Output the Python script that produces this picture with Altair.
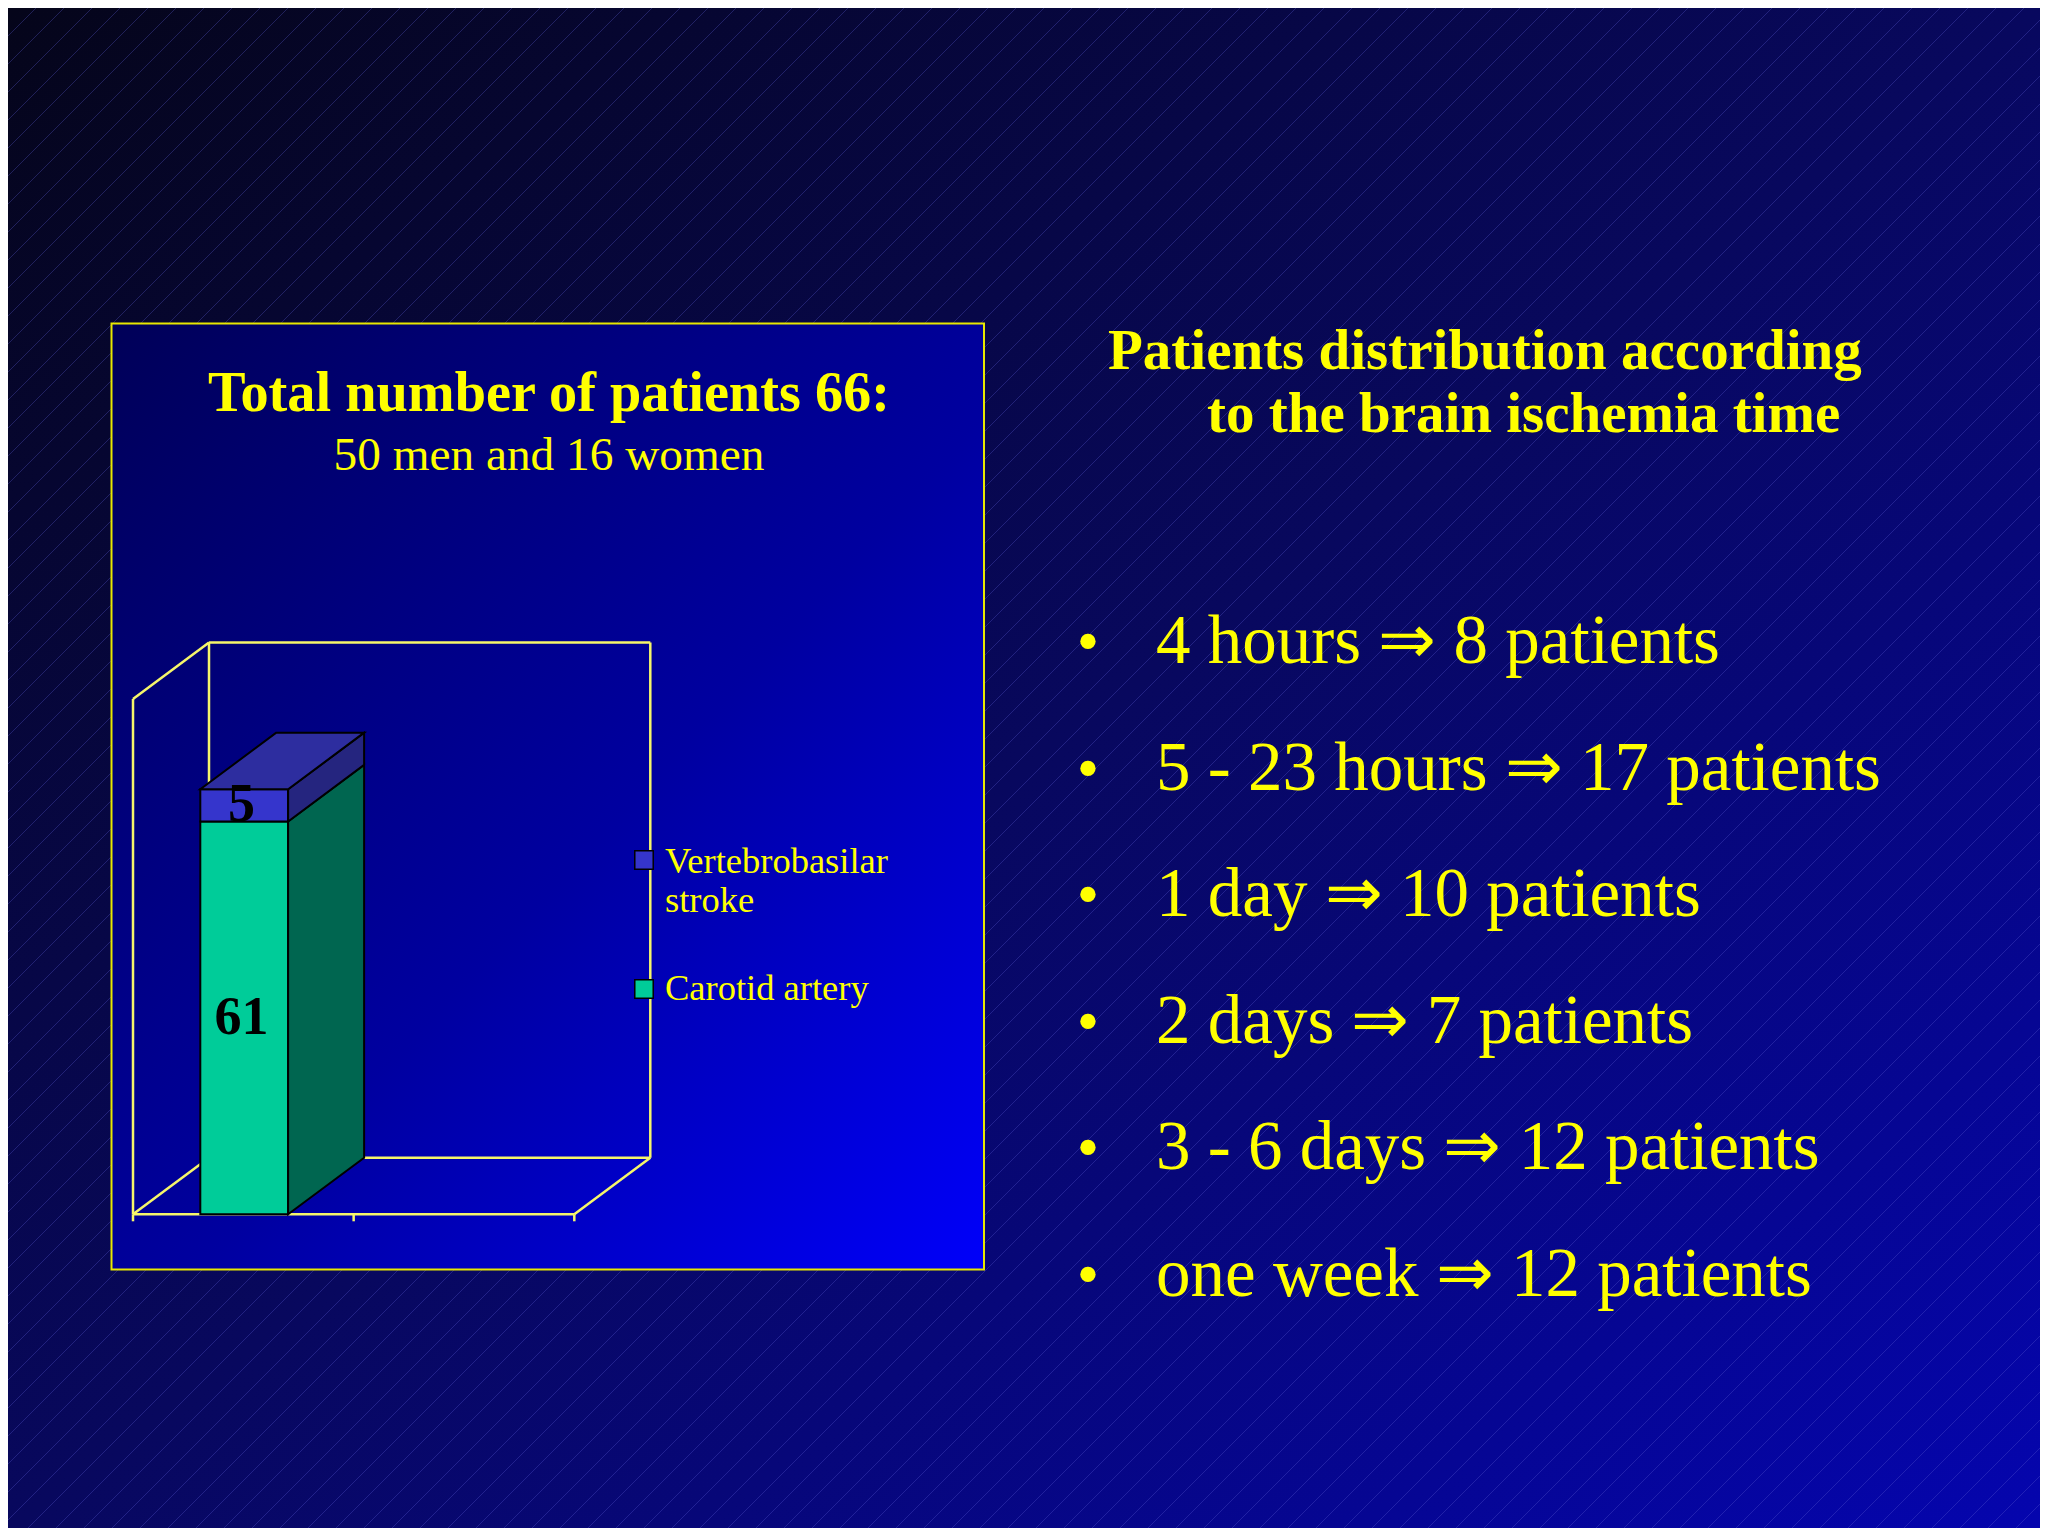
import altair as alt
import pandas as pd

# ---------------- data ----------------
segments = ["Carotid artery", "Vertebrobasilar stroke"]
segment_counts = [61, 5]
legend_order = ["Vertebrobasilar stroke", "Carotid artery"]
legend_labels = ["Vertebrobasilar\nstroke", "Carotid artery"]
y_max = 80

chart_title = "Total number of patients 66:"
chart_subtitle = "50 men and 16 women"
right_title = ["Patients distribution according", "to the brain ischemia time"]
periods = ["4 hours", "5 - 23 hours", "1 day", "2 days", "3 - 6 days", "one week"]
period_patients = [8, 17, 10, 7, 12, 12]

# ---------------- styles / layout ----------------
W, H = 2032, 1520
FONT = "Liberation Serif"
YELLOW = "#ffff00"
FRAME = "#f6f66a"
FRONT_COLORS = ["#00cc99", "#3535cc"]
SIDE_COLORS = ["#006650", "#25257f"]
TOP_COLOR = "#2d2d9f"

X_RANGE = [125, 566.3]
Y_RANGE = [1206.3, 691.1]
BAR_X0, BAR_X1 = 0.305, 0.703
DEPTH_PX = (76, 56.6)
px_per_x = (X_RANGE[1] - X_RANGE[0]) / 2
px_per_y = (Y_RANGE[0] - Y_RANGE[1]) / y_max
DXu = DEPTH_PX[0] / px_per_x
DYu = DEPTH_PX[1] / px_per_y
TICK = 7 / px_per_y

XS = alt.Scale(domain=[0, 2], range=X_RANGE)
YS = alt.Scale(domain=[0, y_max], range=Y_RANGE)

one = pd.DataFrame({"k": [0]})

page_grad = alt.LinearGradient(
    gradient="linear",
    stops=[alt.GradientStop(color="#05051a", offset=0),
           alt.GradientStop(color="#08085e", offset=0.5),
           alt.GradientStop(color="#0505ae", offset=1)],
    x1=0, y1=0, x2=1, y2=1)
box_grad = alt.LinearGradient(
    gradient="linear",
    stops=[alt.GradientStop(color="#000058", offset=0),
           alt.GradientStop(color="#0000a0", offset=0.55),
           alt.GradientStop(color="#0000fa", offset=1)],
    x1=0, y1=0, x2=1, y2=1)

background = alt.Chart(one).mark_rect(fill=page_grad).encode(
    x=alt.value(0), x2=alt.value(W), y=alt.value(0), y2=alt.value(H))

stripes = alt.Chart(alt.sequence(-H, W + 10, 28, as_="s")).transform_calculate(
    s2=f"datum.s + {H}"
).mark_rule(stroke="#5a5ad2", strokeWidth=1, opacity=0.32, clip=True).encode(
    x=alt.X("s:Q", scale=None), x2="s2:Q", y=alt.value(H), y2=alt.value(0))

box = alt.Chart(one).mark_rect(fill=box_grad, stroke="#e8e800", strokeWidth=2).encode(
    x=alt.value(103.5), x2=alt.value(976), y=alt.value(315.5), y2=alt.value(1261.5))

def text_layer(txt, x, y, size, bold=False, align="left"):
    return alt.Chart(pd.DataFrame({"t": [txt]})).mark_text(
        font=FONT, fontSize=size, fontWeight="bold" if bold else "normal",
        color=YELLOW, align=align, baseline="alphabetic").encode(
        x=alt.value(x), y=alt.value(y), text="t:N")

title_l = text_layer(chart_title, 541, 403, 56.3, True, "center")
subtitle_l = text_layer(chart_subtitle, 541, 462, 47.3, False, "center")
title_r1 = text_layer(right_title[0], 1100, 361, 57, True)
title_r2 = text_layer(right_title[1], 1199, 424, 57, True)

# 3-D frame
frame_df = pd.DataFrame([
    (0, 0, 0, y_max),
    (0, y_max, DXu, y_max + DYu),
    (0, 0, DXu, DYu),
    (DXu, DYu, 2 + DXu, DYu),
    (DXu, y_max + DYu, 2 + DXu, y_max + DYu),
    (DXu, DYu, DXu, y_max + DYu),
    (2 + DXu, DYu, 2 + DXu, y_max + DYu),
    (2, 0, 2 + DXu, DYu),
    (0, 0, 2, 0),
    (0, 0, 0, -TICK), (1, 0, 1, -TICK), (2, 0, 2, -TICK),
], columns=["x0", "y0", "x1", "y1"])
frame = alt.Chart(frame_df).mark_rule(stroke=FRAME, strokeWidth=2.5).encode(
    x=alt.X("x0:Q", scale=XS, axis=None), x2="x1:Q",
    y=alt.Y("y0:Q", scale=YS, axis=None), y2="y1:Q")

# stacked bar
bar_df = pd.DataFrame({"segment": segments, "count": segment_counts})
bar_df["hi"] = bar_df["count"].cumsum()
bar_df["lo"] = bar_df["hi"] - bar_df["count"]

front = alt.Chart(bar_df).transform_calculate(
    bx0=f"{BAR_X0}", bx1=f"{BAR_X1}"
).mark_rect(stroke="black", strokeWidth=2).encode(
    x=alt.X("bx0:Q", scale=XS, axis=None), x2="bx1:Q",
    y=alt.Y("lo:Q", scale=YS, axis=None, stack=None), y2="hi:Q",
    fill=alt.Fill("segment:N", scale=alt.Scale(domain=segments, range=FRONT_COLORS), legend=None))

side_df = bar_df.merge(pd.DataFrame({"d": [0, 1]}), how="cross")
side = alt.Chart(side_df).transform_calculate(
    sx=f"{BAR_X1} + datum.d * {DXu}",
    slo=f"datum.lo + datum.d * {DYu}",
    shi=f"datum.hi + datum.d * {DYu}",
).mark_area(stroke="black", strokeWidth=2, orient="vertical", opacity=1).encode(
    x=alt.X("sx:Q", scale=XS, axis=None),
    y=alt.Y("slo:Q", scale=YS, axis=None, stack=None), y2="shi:Q",
    fill=alt.Fill("segment:N", scale=alt.Scale(domain=segments, range=SIDE_COLORS), legend=None),
    detail="segment:N")

top_df = bar_df.tail(1).merge(pd.DataFrame({"d": [0, 1]}), how="cross")
top = alt.Chart(top_df).transform_calculate(
    tx0=f"{BAR_X0} + datum.d * {DXu}",
    tx1=f"{BAR_X1} + datum.d * {DXu}",
    ty=f"datum.hi + datum.d * {DYu}",
).mark_area(stroke="black", strokeWidth=2, orient="horizontal", fill=TOP_COLOR, opacity=1).encode(
    y=alt.Y("ty:Q", scale=YS, axis=None, stack=None),
    x=alt.X("tx0:Q", scale=XS, axis=None, stack=None), x2="tx1:Q")

labels = alt.Chart(bar_df).transform_calculate(
    cx=f"{(BAR_X0 + BAR_X1) / 2 - 0.012}",
    mid="(datum.lo + datum.hi) / 2",
).mark_text(font=FONT, fontSize=54, fontWeight="bold", color="black",
            align="center", baseline="middle").encode(
    x=alt.X("cx:Q", scale=XS, axis=None),
    y=alt.Y("mid:Q", scale=YS, axis=None),
    text="count:Q")

# legend
leg_df = pd.DataFrame({"segment": legend_order, "label": legend_labels})
leg_sq = alt.Chart(leg_df).mark_square(size=340, stroke="black", strokeWidth=1.5, opacity=1).encode(
    x=alt.value(636),
    y=alt.Y("segment:N", scale=alt.Scale(type="point", domain=legend_order, range=[852, 981], padding=0), axis=None),
    fill=alt.Fill("segment:N", scale=alt.Scale(domain=segments, range=FRONT_COLORS), legend=None))
leg_tx = alt.Chart(leg_df).mark_text(font=FONT, fontSize=36.5, color=YELLOW, align="left",
                                     baseline="alphabetic", lineBreak="\n", lineHeight=39).encode(
    x=alt.value(657),
    y=alt.Y("segment:N", scale=alt.Scale(type="point", domain=legend_order, range=[865, 992], padding=0), axis=None),
    text="label:N")

# bullet list
bul_df = pd.DataFrame({"period": periods, "n": period_patients})
BUL_Y = alt.Scale(type="point", domain=periods, range=[655, 1287.5], padding=0)
bullets = alt.Chart(bul_df).mark_text(font=FONT, fontSize=64, color=YELLOW, align="center",
                                      baseline="alphabetic", text="\u2022").encode(
    x=alt.value(1080), y=alt.Y("period:N", scale=BUL_Y, axis=None))
items = alt.Chart(bul_df).transform_calculate(
    label="datum.period + ' \u21d2 ' + datum.n + ' patients'"
).mark_text(font=FONT, fontSize=69, color=YELLOW, align="left", baseline="alphabetic").encode(
    x=alt.value(1148), y=alt.Y("period:N", scale=BUL_Y, axis=None), text="label:N")

chart = alt.layer(
    background, stripes, box, title_l, subtitle_l, title_r1, title_r2,
    frame, front, side, top, labels, leg_sq, leg_tx, bullets, items
).resolve_scale(
    x="independent", y="independent", fill="independent"
).properties(
    width=W, height=H, padding=0, background="#05051a",
    autosize=alt.AutoSizeParams(type="none")
).configure_view(strokeWidth=0)

chart.save("out.html", embed_options={"renderer": "svg", "actions": False})
